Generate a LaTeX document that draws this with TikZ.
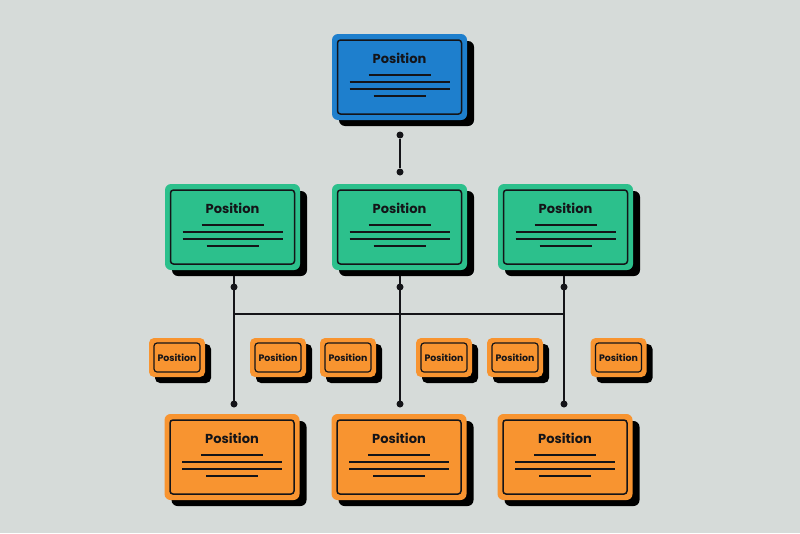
\documentclass[tikz,border=0pt]{standalone}
\usepackage{fontspec}
\setmainfont{Poppins}
\definecolor{bg}{RGB}{214,219,217}
\definecolor{cblue}{RGB}{30,127,205}
\definecolor{cgreen}{RGB}{44,192,140}
\definecolor{corange}{RGB}{248,148,48}
\definecolor{ink}{RGB}{20,20,24}
\tikzset{
  outerbox/.style={rounded corners=6pt, minimum width=135pt, minimum height=86pt, inner sep=0pt},
  smallbox/.style={rounded corners=5pt, minimum width=56pt, minimum height=39pt, inner sep=0pt, fill=corange},
  shadowbox/.style={fill=black, rounded corners=6pt},
  innerframe/.style={draw=ink, line width=1.5pt, rounded corners=3pt},
  txtline/.style={draw=ink, line width=1.6pt},
  conn/.style={draw=ink, line width=1.8pt},
  dot/.style={circle, fill=ink, inner sep=0pt, minimum size=7pt},
  bigtext/.style={font=\bfseries\fontsize{13}{15}\selectfont, text=ink, inner sep=0pt},
  smalltext/.style={font=\bfseries\fontsize{9.4}{10}\selectfont, text=ink, inner sep=0pt}
}
\newcommand{\bigpos}[4]{%
  \fill[shadowbox] (#2-67.5+7,#3-43+7) rectangle (#2+67.5+7,#3+43+6);
  \node[outerbox, fill=#4] (#1) at (#2,#3) {};
  \draw[innerframe] (#2-62,#3-37) rectangle (#2+62,#3+37);
  \node[bigtext] (#1t) at (#2,#3-19) {Position};
  \draw[txtline] (#2-31,#3-2) -- (#2+31,#3-2);
  \draw[txtline] (#2-50,#3+5) -- (#2+50,#3+5);
  \draw[txtline] (#2-50,#3+12) -- (#2+50,#3+12);
  \draw[txtline] (#2-26,#3+19) -- (#2+26,#3+19);
}
\newcommand{\smallpos}[3]{%
  \fill[shadowbox, rounded corners=5pt] (#2-28+6,#3-19.5+6) rectangle (#2+28+6,#3+19.5+6);
  \node[smallbox] (#1) at (#2,#3) {};
  \draw[innerframe, line width=1.2pt] (#2-23,#3-14.5) rectangle (#2+23,#3+14.5);
  \node[smalltext] (#1t) at (#2,#3) {Position};
}
\begin{document}
\begin{tikzpicture}[x=1pt, y=-1pt]
\fill[bg] (0,0) rectangle (800,533);
\useasboundingbox (0,0) rectangle (800,533);
% top
\bigpos{top}{399.5}{77}{cblue}
% connector top
\node[dot] (d0a) at (400,135) {};
\node[dot] (d0b) at (400,172) {};
\draw[conn] (d0a) -- (d0b);
% green row
\bigpos{gl}{232.5}{227}{cgreen}
\bigpos{gm}{399.5}{227}{cgreen}
\bigpos{gr}{565.5}{227}{cgreen}
% connectors below green
\coordinate (sl) at (234,276);
\coordinate (sm) at (400,276);
\coordinate (sr) at (564,276);
\node[dot] (ul) at (234,287) {};
\node[dot] (um) at (400,287) {};
\node[dot] (ur) at (564,287) {};
\node[dot] (ll) at (234,404) {};
\node[dot] (lm) at (400,404) {};
\node[dot] (lr) at (564,404) {};
\coordinate (hl) at (234,314);
\coordinate (hr) at (564,314);
\draw[conn] (sl) -- (ll.center);
\draw[conn] (sm) -- (lm.center);
\draw[conn] (sr) -- (lr.center);
\draw[conn] (hl) -- (hr);
% small boxes
\smallpos{s1}{177}{357.5}
\smallpos{s2}{278}{357.5}
\smallpos{s3}{348}{357.5}
\smallpos{s4}{444}{357.5}
\smallpos{s5}{515}{357.5}
\smallpos{s6}{618.5}{357.5}
% orange row
\bigpos{ol}{232}{457}{corange}
\bigpos{om}{399}{457}{corange}
\bigpos{or}{565}{457}{corange}
\end{tikzpicture}
\end{document}
